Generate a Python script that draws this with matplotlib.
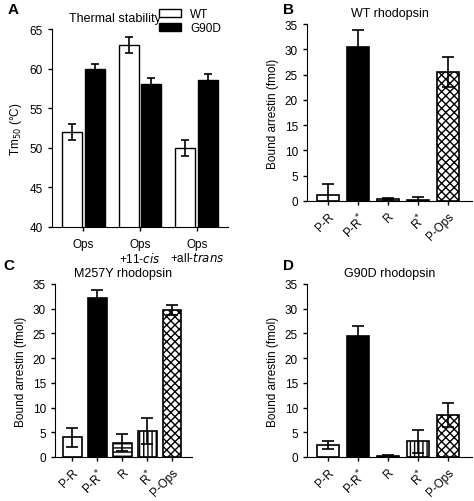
import matplotlib.pyplot as plt
import matplotlib as mpl

mpl.rcParams['font.family'] = ['Liberation Sans', 'DejaVu Sans']
mpl.rcParams['font.size'] = 8.5
mpl.rcParams['hatch.linewidth'] = 1.0

# panel A
groups = ['Ops', 'Ops\n+11-$\\it{cis}$', 'Ops\n+all-$\\it{trans}$']
wt_tm = [52.0, 63.0, 50.0]
wt_err = [1.0, 1.0, 1.0]
g90d_tm = [60.0, 58.0, 58.5]
g90d_err = [0.6, 0.8, 0.8]

# panels B-D
cats = ['P-R', 'P-R*', 'R', 'R*', 'P-Ops']
wt_arr = [1.2, 30.5, 0.3, 0.1, 25.5]
wt_arr_err = [2.1, 3.4, 0.2, 0.6, 3.0]
m257y_arr = [4.0, 32.2, 2.9, 5.3, 29.8]
m257y_err = [1.9, 1.5, 1.7, 2.6, 1.0]
g90d_arr = [2.5, 24.5, 0.3, 3.2, 8.5]
g90d_arr_err = [0.8, 2.0, 0.2, 2.3, 2.5]

fills = ['white', 'black', 'white', 'white', 'white']
hatches = ['', '', '----', '||||', 'xxxx']

W, H = 474, 502
fig = plt.figure(figsize=(W / 100, H / 100), dpi=100)

def pax(l, t, r, b):
    return fig.add_axes([l / W, 1 - b / H, (r - l) / W, (b - t) / H])

def style(ax):
    for s in ['top', 'right']:
        ax.spines[s].set_visible(False)
    ax.tick_params(direction='out', length=3, width=1)

ax = pax(52, 30, 228, 228)
x = range(3)
ax.bar([i - 0.2 for i in x], wt_tm, 0.35, yerr=wt_err, color='white', edgecolor='black',
       capsize=3, error_kw=dict(lw=1.2, capthick=1.2), label='WT')
ax.bar([i + 0.2 for i in x], g90d_tm, 0.35, yerr=g90d_err, color='black', edgecolor='black',
       capsize=3, error_kw=dict(lw=1.2, capthick=1.2), label='G90D')
ax.set_ylim(40, 65)
ax.set_xlim(-0.55, 2.55)
ax.set_yticks(range(40, 66, 5))
ax.set_xticks(list(x))
ax.set_xticklabels(groups, linespacing=1.1)
ax.tick_params(axis='x', length=0, pad=5)
ax.set_ylabel('Tm$_{50}$ (°C)')
ax.set_title('Thermal stability', fontsize=9, x=0.36)
ax.legend(loc='upper right', bbox_to_anchor=(1.02, 1.16), frameon=False, handlelength=1.8,
          labelspacing=0.2)
style(ax)
fig.text(8 / W, 1 - 14 / H, 'A', fontweight='bold', fontsize=11)

def arr_panel(box, vals, errs, title, letter, lpos):
    ax = pax(*box)
    xs = range(len(cats))
    for i in xs:
        ax.bar(i, vals[i], 0.75, yerr=errs[i], color=fills[i], edgecolor='black', hatch=hatches[i],
               capsize=4, error_kw=dict(lw=1.2, capthick=1.2), linewidth=1.2)
    ax.set_ylim(0, 35)
    ax.set_xlim(-0.7, 4.8)
    ax.set_yticks(range(0, 36, 5))
    ax.set_xticks(list(xs))
    ax.set_xticklabels(['P-R', 'P-R$^{*}$', 'R', 'R$^{*}$', 'P-Ops'], rotation=45, ha='right',
                       rotation_mode='anchor')
    ax.set_ylabel('Bound arrestin (fmol)')
    ax.set_title(title, fontsize=9)
    style(ax)
    fig.text(lpos[0] / W, 1 - lpos[1] / H, letter, fontweight='bold', fontsize=11)

arr_panel((307, 25, 472, 202), wt_arr, wt_arr_err, 'WT rhodopsin', 'B', (283, 14))
arr_panel((55, 285, 192, 458), m257y_arr, m257y_err, 'M257Y rhodopsin', 'C', (3, 270))
arr_panel((307, 285, 472, 458), g90d_arr, g90d_arr_err, 'G90D rhodopsin', 'D', (283, 270))

fig.savefig('out.png', dpi=100)
